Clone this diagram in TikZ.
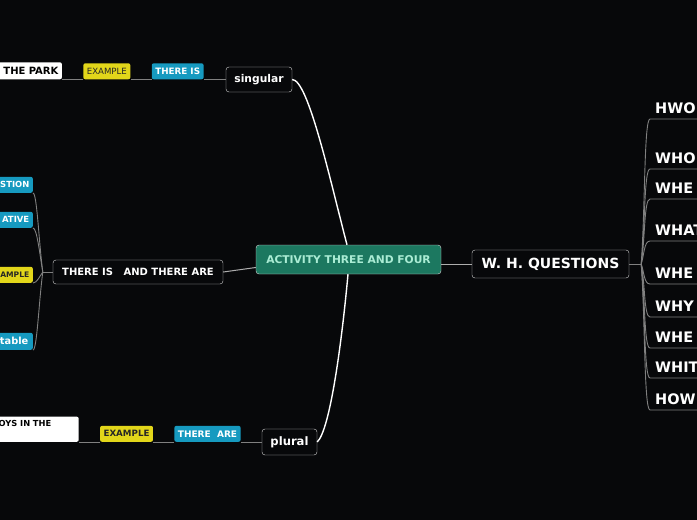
\documentclass[tikz,border=0pt]{standalone}
\usepackage{fontspec}
\setmainfont{DejaVu Sans}
\usetikzlibrary{positioning}

\definecolor{mapbg}{RGB}{7,8,10}
\definecolor{maptopic}{RGB}{28,120,96}
\definecolor{maptopictext}{RGB}{170,236,212}
\definecolor{mapblue}{RGB}{22,154,192}
\definecolor{mapyellow}{RGB}{226,214,26}
\definecolor{mapline}{RGB}{128,128,128}
\definecolor{mapedge}{RGB}{214,214,214}

\begin{document}
\begin{tikzpicture}[x=1pt, y=-1pt,
    frame/.style={draw=mapedge, fill=mapbg, rounded corners=3pt, text=white, inner sep=0pt},
    bluetag/.style={fill=mapblue, rounded corners=2pt, text=white, inner xsep=3.5pt, inner ysep=0pt, minimum height=16pt},
    yellowtag/.style={fill=mapyellow, rounded corners=2pt, text=black!85, inner xsep=3.5pt, inner ysep=0pt, minimum height=16pt},
    cut/.style={text width=40pt, align=right},
    whq/.style={anchor=south west, text=white, font=\bfseries\fontsize{14.5}{15}\selectfont, text width=50pt, align=left, inner xsep=5pt, inner ysep=5.5pt},
    twig/.style={draw=mapline, line width=0.9pt},
    link/.style={draw=mapedge!80!mapbg, line width=1pt},
    stem/.style={draw=white, line width=1.4pt}]

  \clip (0,0) rectangle (697,520);
  \fill[mapbg] (0,0) rectangle (697,520);

  \node[frame, fill=maptopic, text=maptopictext, font=\bfseries\fontsize{10.7}{12}\selectfont, minimum width=185pt, minimum height=29pt] (act) at (348.5,259.5) {ACTIVITY THREE AND FOUR};
  \node[frame, font=\bfseries\fontsize{14}{15}\selectfont, minimum width=157pt, minimum height=28pt] (wh) at (550.5,264) {W. H. QUESTIONS};
  \node[frame, font=\bfseries\fontsize{10}{12}\selectfont, minimum width=170pt, minimum height=24pt] (tia) at (138,272) {THERE IS\ \ \ AND THERE ARE};

  \node[frame, font=\bfseries\fontsize{10.7}{12}\selectfont, minimum width=66pt, minimum height=25pt] (sing) at (259,79.5) {singular};
  \node[bluetag, font=\bfseries\fontsize{8.8}{10}\selectfont, left=22pt of sing.west, anchor=south east] (tis) {THERE IS};
  \node[yellowtag, font=\fontsize{8.6}{10}\selectfont, left=21pt of tis.south west, anchor=south east] (ex1) {EXAMPLE};
  \node[cut, text width=70pt, fill=white, text=black, rounded corners=2pt, inner xsep=3.5pt, inner ysep=0pt, minimum height=17pt, font=\bfseries\fontsize{10}{12}\selectfont, left=21pt of ex1.south west, anchor=south east] (park) {THE PARK};

  \node[frame, font=\bfseries\fontsize{11.6}{13}\selectfont, minimum width=55pt, minimum height=26pt] (plur) at (289.5,442) {plural};
  \node[bluetag, font=\bfseries\fontsize{9}{10}\selectfont, left=21pt of plur.west, anchor=south east] (tar) {THERE\ \ ARE};
  \node[yellowtag, font=\bfseries\fontsize{8.7}{10}\selectfont, left=21pt of tar.south west, anchor=south east] (ex2) {EXAMPLE};
  \node[fill=white, text=black, rounded corners=2pt, text width=76pt, align=left, inner xsep=4pt, inner ysep=4pt, font=\bfseries\fontsize{8.3}{11}\selectfont, left=21pt of ex2.south west, anchor=south east] (boys) {OYS IN THE\\ \mbox{}};

  \node[bluetag, cut, font=\bfseries\fontsize{8.4}{10}\selectfont, anchor=south east] (sti) at (33,193) {STION};
  \node[bluetag, cut, font=\bfseries\fontsize{8.5}{10}\selectfont, anchor=south east] (ati) at (33,228) {ATIVE};
  \node[yellowtag, cut, font=\bfseries\fontsize{7.6}{10}\selectfont, anchor=south east] (amp) at (33,283) {AMPLE};
  \node[bluetag, cut, inner xsep=4.5pt, minimum height=17pt, font=\bfseries\fontsize{9.8}{12}\selectfont, anchor=south east] (tab) at (33,350) {table};

  \node[whq] (q1) at (650,119) {HWO};
  \node[whq] (q2) at (650,169) {WHO};
  \node[whq] (q3) at (650,199) {WHE};
  \node[whq] (q4) at (650,241) {WHAT};
  \node[whq] (q5) at (650,284) {WHE};
  \node[whq] (q6) at (650,317) {WHY};
  \node[whq] (q7) at (650,348) {WHE};
  \node[whq] (q8) at (650,378) {WHIT};
  \node[whq] (q9) at (650,410) {HOW};

  \coordinate (j1) at ([xshift=-10pt]tia.west);
  \coordinate (j2) at ([xshift=12pt]wh.east);

  \draw[stem] (sing.east) .. controls +(16,0) and +(-17,-65) .. ([xshift=-1.5pt]act.north);
  \draw[stem] (plur.east) .. controls +(13,-12) and +(-6,66) .. ([xshift=-0.5pt]act.south);
  \draw[link] ([yshift=-8pt]act.west) -- (tia.east);
  \draw[link] ([yshift=-4.5pt]act.east) -- (wh.west);

  \draw[twig] (sing.west) -- (tis.south east) (tis.south west) -- (ex1.south east) (ex1.south west) -- (park.south east);
  \draw[twig] (plur.west) -- (tar.south east) (tar.south west) -- (ex2.south east) (ex2.south west) -- (boys.south east);

  \draw[twig] (tia.west) -- (j1);
  \draw[twig] (j1) .. controls +(-4,-30) and +(4,0) .. (sti.south east);
  \draw[twig] (j1) .. controls +(-3,-17) and +(4,0) .. (ati.south east);
  \draw[twig] (j1) .. controls +(-3,4) and +(4,0) .. (amp.south east);
  \draw[twig] (j1) .. controls +(-4,30) and +(4,0) .. (tab.south east);

  \draw[twig] (wh.east) -- (j2);
  \draw[twig] (j2) .. controls +(4,-55) and +(-6,0) .. (q1.south west) -- (q1.south east);
  \draw[twig] (j2) .. controls +(4,-36) and +(-6,0) .. (q2.south west) -- (q2.south east);
  \draw[twig] (j2) .. controls +(4,-25) and +(-6,0) .. (q3.south west) -- (q3.south east);
  \draw[twig] (j2) .. controls +(3,-9) and +(-6,0) .. (q4.south west) -- (q4.south east);
  \draw[twig] (j2) .. controls +(3,8) and +(-6,0) .. (q5.south west) -- (q5.south east);
  \draw[twig] (j2) .. controls +(4,20) and +(-6,0) .. (q6.south west) -- (q6.south east);
  \draw[twig] (j2) .. controls +(4,32) and +(-6,0) .. (q7.south west) -- (q7.south east);
  \draw[twig] (j2) .. controls +(4,43) and +(-6,0) .. (q8.south west) -- (q8.south east);
  \draw[twig] (j2) .. controls +(4,55) and +(-6,0) .. (q9.south west) -- (q9.south east);
\end{tikzpicture}
\end{document}
